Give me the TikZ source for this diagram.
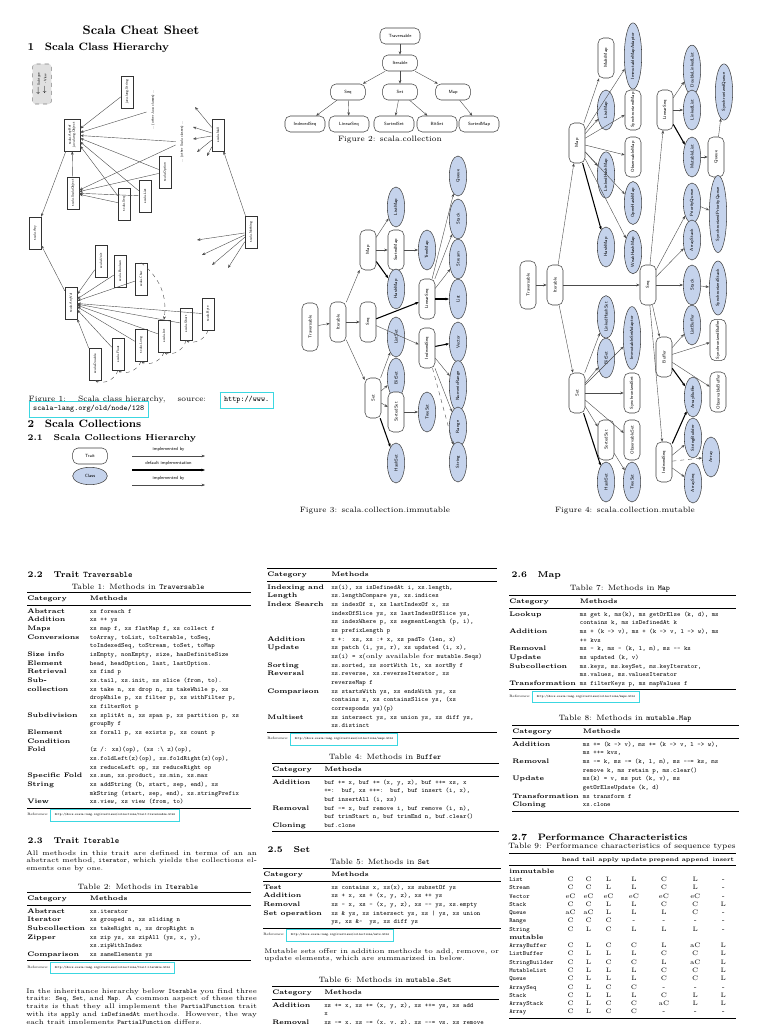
\documentclass[tikz,border=0pt]{standalone}
\usepackage{booktabs,array}
\usetikzlibrary{shapes.geometric,arrows.meta}
\definecolor{clblue}{RGB}{197,211,236}
\definecolor{lnk}{RGB}{60,215,225}
\setlength{\heavyrulewidth}{0.7pt}\setlength{\lightrulewidth}{0.4pt}
\setlength{\aboverulesep}{1pt}\setlength{\belowrulesep}{1.2pt}
\newcommand{\nfont}{\sffamily\fontsize{3.4}{3.8}\selectfont}
\newcommand{\bfont}{\sffamily\fontsize{2.6}{3}\selectfont}
\newcommand{\tabfont}{\fontsize{4.9}{6.5}\selectfont}
\newcommand{\hd}[1]{{\fontsize{4.2}{5}\selectfont\textbf{#1}}}
\newcommand{\mtab}[3]{\begin{tabular}{@{}>{\bfseries\raggedright\arraybackslash}p{#1}@{\hspace{3pt}}>{\ttfamily\raggedright\arraybackslash}p{#2}@{}}
\toprule \textbf{Category} & \textrm{\textbf{Methods}}\\ \midrule #3 \bottomrule\end{tabular}}
\newcommand{\rf}[1]{{\fontsize{2.6}{3}\selectfont Reference:\ \fcolorbox{lnk}{white}{\ttfamily\fontsize{2.4}{2.6}\selectfont #1}}}
\tikzset{
 trb/.style={draw=black!75, rounded corners=4pt, fill=white, font=\nfont, inner sep=1pt, minimum height=12pt, minimum width=30pt},
 tr/.style={trb, rotate=90},
 cl/.style={draw=black!75, ellipse, fill=clblue, font=\nfont, inner sep=0.2pt, minimum height=13pt, minimum width=30pt, rotate=90},
 clh/.style={draw=black!75, ellipse, fill=clblue, font=\nfont, inner sep=0.5pt, minimum height=13pt, minimum width=32pt},
 ar/.style={-{Stealth[length=2.6pt,width=2pt]}, draw=black!70, line width=0.3pt},
 tk/.style={ar, line width=0.8pt, draw=black},
 dsh/.style={ar, dashed},
 bx/.style={draw=black!80, fill=white, rotate=90, font=\bfont, align=center, inner sep=1pt, minimum width=24pt, minimum height=9pt},
 ttlx/.style={font=\bfseries\fontsize{8}{9}\selectfont, anchor=west},
 subx/.style={font=\bfseries\fontsize{6.4}{7.5}\selectfont, anchor=west},
 captx/.style={font=\fontsize{5.8}{7}\selectfont},
 parx/.style={font=\fontsize{5.05}{5.9}\selectfont, anchor=north west, align=justify, inner sep=0},
 tabx/.style={anchor=north west, inner sep=0, font=\tabfont},
}
\begin{document}
\begin{tikzpicture}[x=0.75pt,y=-0.75pt]
\useasboundingbox (0,0) rectangle (768,1024);
\fill[white] (0,0) rectangle (768,1024);
% ---------- Title and section 1
\node[font=\bfseries\fontsize{9.3}{11}\selectfont] (title) at (141,30) {Scala Cheat Sheet};
\node[ttlx] (s1) at (23,48) {1\hspace{8pt}Scala Class Hierarchy};
% ---------- Figure 1
\node[draw=black!50, dashed, fill=black!12, rounded corners=2pt, minimum width=14pt, minimum height=30pt, inner sep=0] (leg) at (42,84) {};
\node[rotate=90, font=\bfont] (legt) at (39,84) {$\leftarrow$ Subtype};
\node[rotate=90, font=\bfont] (legt2) at (45,84) {$\leftarrow$ - View};
\node[bx] (any) at (35,233) {scala.Any};
\node[bx, minimum height=12pt] (anyref) at (72,135) {scala.AnyRef\\java.lang.Object};
\node[bx] (sobj) at (73,193) {scala.ScalaObject};
\node[bx] (str) at (127,92) {java.lang.String};
\node[bx] (opt) at (165,172) {scala.Option};
\node[bx] (lst) at (145,196) {scala.List};
\node[bx] (sq) at (124,204) {scala.Seq};
\node[rotate=90, font=\bfont] (jc) at (153,110) {... (other Java classes) ...};
\node[rotate=90, font=\bfont] (sc) at (182,142) {... (other Scala classes) ...};
\node[bx] (null) at (218,135) {scala.Null};
\node[bx] (noth) at (251,232) {scala.Nothing};
\node[bx] (anyval) at (71,303) {scala.AnyVal};
\node[bx] (unit) at (101,261) {scala.Unit};
\node[bx] (bool) at (120,271) {scala.Boolean};
\node[bx] (chr) at (141,279) {scala.Char};
\node[bx] (byte) at (208,314) {scala.Byte};
\node[bx] (short) at (186,324) {scala.Short};
\node[bx] (int) at (164,336) {scala.Int};
\node[bx] (long) at (141,345) {scala.Long};
\node[bx] (float) at (118,354) {scala.Float};
\node[bx] (dbl) at (95,364) {scala.Double};
\foreach \a in {anyref,anyval} \draw[ar] (\a) -- (any);
\foreach \a in {sobj,str,jc,opt,lst,sq,sc} \draw[ar] (\a) -- (anyref);
\foreach \a in {opt,lst,sq,sc} \draw[ar] (\a) -- (sobj);
\coordinate (n1) at (195,107);\coordinate (n2) at (193,127);\coordinate (n3) at (193,139);\coordinate (n4) at (197,152);\coordinate (n5) at (207,156);
\foreach \c in {n1,n2,n3,n4,n5} \draw[ar] (null) -- (\c);
\draw[ar] (noth) -- (null);
\coordinate (m1) at (197,240);\coordinate (m2) at (202,255);\coordinate (m3) at (212,265);\coordinate (m4) at (228,268);
\foreach \c in {m1,m2,m3,m4} \draw[ar] (noth) -- (\c);
\foreach \a in {unit,bool,chr,byte,short,int,long,float,dbl} \draw[ar] (\a) -- (anyval);
\draw[dsh] (byte.west) to[bend left=50] (short.west);
\draw[dsh] (short.west) to[bend left=50] (int.west);
\draw[dsh] (int.west) to[bend left=50] (long.west);
\draw[dsh] (long.west) to[bend left=50] (float.west);
\draw[dsh] (float.west) to[bend left=50] (dbl.west);
\draw[dsh] (chr.east) to[bend left=30] (int.east);
\node[captx, anchor=west] (f1a) at (24,400) {Figure 1:\hspace{9pt}Scala class hierarchy,\hspace{9pt}source:\hspace{10pt}\fcolorbox{lnk}{white}{\ttfamily http://www.}};
\node[captx, anchor=west] (f1b) at (24,409) {\fcolorbox{lnk}{white}{\ttfamily scala-lang.org/old/node/128}};
% ---------- Section 2
\node[ttlx] (s2) at (23,424) {2\hspace{8pt}Scala Collections};
\node[subx] (s21) at (23,438) {2.1\hspace{8pt}Scala Collections Hierarchy};
\node[trb, minimum width=26pt] (lt) at (90,456) {Trait};
\node[clh, minimum width=26pt] (lc) at (90,476) {Class};
\coordinate (la1) at (132,456);\coordinate (lb1) at (205,456);
\coordinate (la2) at (132,470);\coordinate (lb2) at (205,470);
\coordinate (la3) at (132,485);\coordinate (lb3) at (205,485);
\draw[ar] (la1) -- node[above, font=\nfont] {implemented by} (lb1);
\draw[tk] (la2) -- node[above, font=\nfont] {default implementation} (lb2);
\draw[ar] (la3) -- node[above, font=\nfont] {implemented by} (lb3);
% ---------- Figure 2
\node[trb] (t2) at (400,36) {Traversable};
\node[trb, minimum width=26pt] (i2) at (400,63) {Iterable};
\node[trb, minimum width=26pt] (seq2) at (348,92) {Seq};
\node[trb, minimum width=26pt] (set2) at (400,92) {Set};
\node[trb, minimum width=26pt] (map2) at (453,92) {Map};
\node[trb] (is2) at (305,124) {IndexedSeq};
\node[trb] (ls2) at (349,124) {LinearSeq};
\node[trb] (ss2) at (394,124) {SortedSet};
\node[trb] (bs2) at (437,124) {BitSet};
\node[trb] (sm2) at (479,124) {SortedMap};
\draw[ar] (t2) -- (i2);
\foreach \a in {seq2,set2,map2} \draw[ar] (i2) -- (\a);
\draw[ar] (seq2) -- (is2); \draw[ar] (seq2) -- (ls2);
\draw[ar] (set2) -- (ss2); \draw[ar] (set2) -- (bs2);
\draw[ar] (map2) -- (sm2);
\node[captx] (f2) at (390,140) {Figure 2: scala.collection};
% ---------- Figure 3
\node[tr, minimum width=36pt] (t3) at (310,327) {Traversable};
\node[tr] (i3) at (338,322) {Iterable};
\node[tr] (seq3) at (368,322) {Seq};
\node[tr] (map3) at (368,250) {Map};
\node[tr] (set3) at (373,398) {Set};
\node[cl] (lm3) at (396,207) {ListMap};
\node[tr] (sm3) at (396,250) {SortedMap};
\node[cl] (hm3) at (396,289) {HashMap};
\node[cl] (tm3) at (427,250) {TreeMap};
\node[tr] (ls3) at (427,299) {LinearSeq};
\node[tr] (is3) at (427,348) {IndexedSeq};
\node[cl] (qu3) at (458,176) {Queue};
\node[cl] (st3) at (458,219) {Stack};
\node[cl] (sr3) at (458,259) {Stream};
\node[cl] (li3) at (458,299) {List};
\node[cl] (ve3) at (458,342) {Vector};
\node[cl, minimum width=38pt] (nr3) at (458,386) {NumericRange};
\node[cl] (ra3) at (458,427) {Range};
\node[cl] (sg3) at (458,462) {String};
\node[cl] (lse3) at (396,337) {ListSet};
\node[cl] (bs3) at (396,378) {BitSet};
\node[tr] (ss3) at (396,412) {SortedSet};
\node[cl] (hs3) at (396,463) {HashSet};
\node[cl] (ts3) at (427,412) {TreeSet};
\draw[ar] (t3) -- (i3);
\foreach \a in {map3,seq3,set3} \draw[ar] (i3) -- (\a);
\draw[ar] (map3) -- (lm3); \draw[ar] (map3) -- (sm3); \draw[tk] (map3) -- (hm3);
\draw[ar] (sm3) -- (tm3);
\draw[tk] (seq3) -- (ls3); \draw[ar] (seq3) -- (is3);
\draw[ar] (ls3) -- (qu3); \draw[ar] (ls3) -- (st3); \draw[ar] (ls3) -- (sr3); \draw[tk] (ls3) -- (li3);
\draw[tk] (is3) -- (ve3); \draw[ar] (is3) -- (nr3); \draw[ar] (is3) -- (ra3); \draw[dsh] (is3) -- (sg3);
\draw[ar] (set3) -- (lse3); \draw[ar] (set3) -- (bs3); \draw[ar] (set3) -- (ss3); \draw[tk] (set3) -- (hs3);
\draw[ar] (ss3) -- (ts3);
\node[captx] (f3) at (375,511) {Figure 3: scala.collection.immutable};
% ---------- Figure 4
\node[tr, minimum width=36pt] (t4) at (528,285) {Traversable};
\node[tr] (i4) at (555,285) {Iterable};
\node[tr] (map4) at (577,143) {Map};
\node[tr] (set4) at (577,393) {Set};
\node[tr] (seq4) at (648,285) {Seq};
\node[tr] (mm4) at (606,58) {MultiMap};
\node[cl] (ima4) at (633,56) {ImmutableMapAdaptor};
\node[cl] (lm4) at (606,110) {ListMap};
\node[tr] (sym4) at (633,110) {SynchronizedMap};
\node[tr] (om4) at (633,157) {ObservableMap};
\node[cl] (lhm4) at (606,175) {LinkedHashMap};
\node[cl] (ohm4) at (633,203) {OpenHashMap};
\node[cl] (hm4) at (606,247) {HashMap};
\node[cl] (whm4) at (633,252) {WeakHashMap};
\node[tr] (ls4) at (665,110) {LinearSeq};
\node[cl] (dll4) at (692,70) {DoubleLinkedList};
\node[cl] (ll4) at (692,110) {LinkedList};
\node[cl] (ml4) at (692,157) {MutableList};
\node[tr] (qu4) at (716,157) {Queue};
\node[cl] (sq4) at (724,92) {SynchronizedQueue};
\node[cl] (pq4) at (692,203) {PriorityQueue};
\node[cl] (spq4) at (718,214) {SynchronizedPriorityQueue};
\node[cl] (as4) at (692,240) {ArrayStack};
\node[cl] (st4) at (692,285) {Stack};
\node[cl] (sst4) at (718,288) {SynchronizedStack};
\node[cl] (lhs4) at (606,317) {LinkedHashSet};
\node[cl] (bs4) at (606,358) {BitSet};
\node[cl] (isa4) at (632,338) {ImmutableSetAdaptor};
\node[tr] (sys4) at (632,393) {SynchronizedSet};
\node[tr] (os4) at (632,440) {ObservableSet};
\node[tr] (ss4) at (606,440) {SortedSet};
\node[cl] (hs4) at (606,482) {HashSet};
\node[cl] (ts4) at (632,482) {TreeSet};
\node[cl] (lb4) at (692,325) {ListBuffer};
\node[tr] (buf4) at (664,357) {Buffer};
\node[tr] (sb4) at (718,340) {SynchronizedBuffer};
\node[tr] (ob4) at (718,392) {ObservableBuffer};
\node[cl] (ab4) at (693,397) {ArrayBuffer};
\node[cl] (sbl4) at (693,438) {StringBuilder};
\node[tr] (is4) at (664,462) {IndexedSeq};
\node[cl] (arr4) at (711,457) {Array};
\node[cl] (aseq4) at (693,483) {ArraySeq};
\draw[ar] (t4) -- (i4);
\draw[ar] (i4) -- (map4); \draw[ar] (i4) -- (set4); \draw[ar] (i4) -- (seq4);
\foreach \a in {mm4,ima4,lm4,sym4,om4,lhm4,ohm4,whm4} \draw[ar] (map4) -- (\a);
\draw[tk] (map4) -- (hm4);
\foreach \a in {ls4,pq4,as4,st4,buf4,is4} \draw[ar] (seq4) -- (\a);
\draw[ar] (ls4) -- (dll4); \draw[ar] (ls4) -- (ll4); \draw[tk] (ls4) -- (ml4);
\draw[ar] (ml4) -- (qu4); \draw[ar] (qu4) -- (sq4);
\draw[ar] (pq4) -- (spq4); \draw[ar] (st4) -- (sst4);
\draw[ar] (buf4) -- (lb4); \draw[ar] (buf4) -- (sb4); \draw[ar] (buf4) -- (ob4); \draw[tk] (buf4) -- (ab4);
\draw[tk] (is4) -- (ab4); \draw[ar] (is4) -- (sbl4); \draw[ar] (is4) -- (aseq4); \draw[dsh] (is4) -- (arr4);
\foreach \a in {lhs4,bs4,isa4,sys4,os4,ss4} \draw[ar] (set4) -- (\a);
\draw[tk] (set4) -- (hs4); \draw[ar] (ss4) -- (ts4);
\node[captx] (f4) at (625,511) {Figure 4: scala.collection.mutable};
% ---------- Column 1 tables
\node[subx] (s22) at (23,575) {2.2\hspace{8pt}Trait \texttt{Traversable}};
\node[captx] (c1) at (138,587) {Table 1: Methods in \texttt{Traversable}};
\node[tabx] (tb1) at (27,592) {\mtab{44pt}{121pt}{
Abstract & xs foreach f\\
Addition & xs ++ ys\\
Maps & xs map f, xs flatMap f, xs collect f\\
Conversions & toArray, toList, toIterable, toSeq,\newline toIndexedSeq, toStream, toSet, toMap\\
Size info & isEmpty, nonEmpty, size, hasDefiniteSize\\
Element & head, headOption, last, lastOption.\\
Retrieval & xs find p\\
Sub-\newline collection & xs.tail, xs.init, xs slice (from, to).\newline xs take n, xs drop n, xs takeWhile p, xs\newline dropWhile p, xs filter p, xs withFilter p,\newline xs filterNot p\\
Subdivision & xs splitAt n, xs span p, xs partition p, xs\newline groupBy f\\
Element\newline Condition & xs forall p, xs exists p, xs count p\\
Fold & (z /: xs)(op), (xs :\textbackslash{} z)(op),\newline xs.foldLeft(z)(op), xs.foldRight(z)(op),\newline xs reduceLeft op, xs reduceRight op\\
Specific Fold & xs.sum, xs.product, xs.min, xs.max\\
String & xs addString (b, start, sep, end), xs\newline mkString (start, sep, end), xs.stringPrefix\\
View & xs.view, xs view (from, to)\\}};
\node[anchor=north west, inner sep=0] (r1) at (tb1.south west) {\rf{http://docs.scala-lang.org/overviews/collections/trait-traversable.html}};
\node[subx] (s23) at (23,841) {2.3\hspace{8pt}Trait \texttt{Iterable}};
\node[parx, text width=173pt] (p1) at (26,850) {All methods in this trait are defined in terms of an an abstract method, \texttt{iterator}, which yields the collections elements one by one.};
\node[captx] (c2) at (138,887) {Table 2: Methods in \texttt{Iterable}};
\node[tabx] (tb2) at (27,892) {\mtab{44pt}{121pt}{
Abstract & xs.iterator\\
Iterator & xs grouped n, xs sliding n\\
Subcollection & xs takeRight n, xs dropRight n\\
Zipper & xs zip ys, xs zipAll (ys, x, y),\newline xs.zipWithIndex\\
Comparison & xs sameElements ys\\}};
\node[anchor=north west, inner sep=0] (r2) at (tb2.south west) {\rf{http://docs.scala-lang.org/overviews/collections/trait-iterable.html}};
\node[parx, text width=173pt] (p2) at (26,988) {In the inheritance hierarchy below \texttt{Iterable} you find three traits: \texttt{Seq}, \texttt{Set}, and \texttt{Map}. A common aspect of these three traits is that they all implement the \texttt{PartialFunction} trait with its \texttt{apply} and \texttt{isDefinedAt} methods. However, the way each trait implements \texttt{PartialFunction} differs.};
% ---------- Column 2 tables
\node[tabx] (tb3) at (267,568) {\mtab{45pt}{124pt}{
Indexing and\newline Length & xs(i), xs isDefinedAt i, xs.length,\newline xs.lengthCompare ys, xs.indices\\
Index Search & xs indexOf x, xs lastIndexOf x, xs\newline indexOfSlice ys, xs lastIndexOfSlice ys,\newline xs indexWhere p, xs segmentLength (p, i),\newline xs prefixLength p\\
Addition & x +:\ \ xs, xs :+ x, xs padTo (len, x)\\
Update & xs patch (i, ys, r), xs updated (i, x),\newline xs(i) = x\textrm{(only available for }mutable.Seqs)\\
Sorting & xs.sorted, xs sortWith lt, xs sortBy f\\
Reversal & xs.reverse, xs.reverseIterator, xs\newline reverseMap f\\
Comparison & xs startsWith ys, xs endsWith ys, xs\newline contains x, xs containsSlice ys, (xs\newline corresponds ys)(p)\\
Multiset & xs intersect ys, xs union ys, xs diff ys,\newline xs.distinct\\}};
\node[anchor=north west, inner sep=0] (r3) at (tb3.south west) {\rf{http://docs.scala-lang.org/overviews/collections/seqs.html}};
\node[captx] (c4) at (385,757) {Table 4: Methods in \texttt{Buffer}};
\node[tabx] (tb4) at (272,763) {\mtab{36pt}{131pt}{
Addition & buf += x, buf += (x, y, z), buf ++= xs, x\newline +=:\ \ buf, xs ++=:\ \ buf, buf insert (i, x),\newline buf insertAll (i, xs)\\
Removal & buf -= x, buf remove i, buf remove (i, n),\newline buf trimStart n, buf trimEnd n, buf.clear()\\
Cloning & buf.clone\\}};
\node[subx] (s25) at (263,850) {2.5\hspace{8pt}Set};
\node[captx] (c5) at (380,862) {Table 5: Methods in \texttt{Set}};
\node[tabx] (tb5) at (263,868) {\mtab{48pt}{127pt}{
Test & xs contains x, xs(x), xs subsetOf ys\\
Addition & xs + x, xs + (x, y, z), xs ++ ys\\
Removal & xs - x, xs - (x, y, z), xs -{}- ys, xs.empty\\
Set operation & xs \& ys, xs intersect ys, xs | ys, xs union\newline ys, xs \&\textasciitilde\ \ ys, xs diff ys\\}};
\node[anchor=north west, inner sep=0] (r5) at (tb5.south west) {\rf{http://docs.scala-lang.org/overviews/collections/sets.html}};
\node[parx, text width=176pt] (p3) at (264,948) {Mutable sets offer in addition methods to add, remove, or update elements, which are summarized in below.};
\node[captx] (c6) at (385,980) {Table 6: Methods in \texttt{mutable.Set}};
\node[tabx] (tb6) at (272,986) {\mtab{36pt}{131pt}{
Addition & xs += x, xs += (x, y, z), xs ++= ys, xs add\newline x\\
Removal & xs -= x, xs -= (x, y, z), xs -{}-= ys, xs remove\newline x, xs retain p, xs.clear()\\}};
% ---------- Column 3 tables
\node[subx] (s26) at (507,575) {2.6\hspace{8pt}Map};
\node[captx] (c7) at (620,589) {Table 7: Methods in \texttt{Map}};
\node[tabx] (tb7) at (509,595) {\mtab{50pt}{117pt}{
Lookup & ms get k, ms(k), ms getOrElse (k, d), ms\newline contains k, ms isDefinedAt k\\
Addition & ms + (k -> v), ms + (k -> v, l -> w), ms\newline ++ kvs\\
Removal & ms - k, ms - (k, l, m), ms -{}- ks\\
Update & ms updated (k, v)\\
Subcollection & ms.keys, ms.keySet, ms.keyIterator,\newline ms.values, ms.valuesIterator\\
Transformation & ms filterKeys p, ms mapValues f\\}};
\node[anchor=north west, inner sep=0] (r7) at (tb7.south west) {\rf{http://docs.scala-lang.org/overviews/collections/maps.html}};
\node[captx] (c8) at (625,719) {Table 8: Methods in \texttt{mutable.Map}};
\node[tabx] (tb8) at (512,725) {\mtab{50pt}{117pt}{
Addition & ms += (k -> v), ms += (k -> v, l -> w),\newline ms ++= kvs,\\
Removal & ms -= k, ms -= (k, l, m), ms -{}-= ks, ms\newline remove k, ms retain p, ms.clear()\\
Update & ms(k) = v, ms put (k, v), ms\newline getOrElseUpdate (k, d)\\
Transformation & ms transform f\\
Cloning & xs.clone\\}};
\node[ttlx, font=\bfseries\fontsize{7}{8}\selectfont] (s27) at (507,837) {2.7\hspace{8pt}Performance Characteristics};
\node[captx] (c9) at (622,847) {Table 9: Performance characteristics of sequence types};
\node[tabx, font=\fontsize{4.8}{6.2}\selectfont] (tb9) at (509,853) {\setlength{\tabcolsep}{0pt}%
\begin{tabular}{@{}>{\ttfamily}p{39pt}>{\centering\arraybackslash}p{14pt}>{\centering\arraybackslash}p{13pt}>{\centering\arraybackslash}p{17pt}>{\centering\arraybackslash}p{21pt}>{\centering\arraybackslash}p{24pt}>{\centering\arraybackslash}p{23pt}>{\centering\arraybackslash}p{19pt}@{}}
\toprule
 & \hd{head} & \hd{tail} & \hd{apply} & \hd{update} & \hd{prepend} & \hd{append} & \hd{insert}\\ \midrule
\textrm{\textbf{immutable}}\\
List & C & C & L & L & C & L & -\\
Stream & C & C & L & L & C & L & -\\
Vector & eC & eC & eC & eC & eC & eC & -\\
Stack & C & C & L & L & C & C & L\\
Queue & aC & aC & L & L & L & C & -\\
Range & C & C & C & - & - & - & -\\
String & C & L & C & L & L & L & -\\
\textrm{\textbf{mutable}}\\
ArrayBuffer & C & L & C & C & L & aC & L\\
ListBuffer & C & L & L & L & C & C & L\\
StringBuilder & C & L & C & C & L & aC & L\\
MutableList & C & L & L & L & C & C & L\\
Queue & C & L & L & L & C & C & L\\
ArraySeq & C & L & C & C & - & - & -\\
Stack & C & L & L & L & C & L & L\\
ArrayStack & C & L & C & C & aC & L & L\\
Array & C & L & C & C & - & - & -\\
\bottomrule
\end{tabular}};
\end{tikzpicture}
\end{document}
